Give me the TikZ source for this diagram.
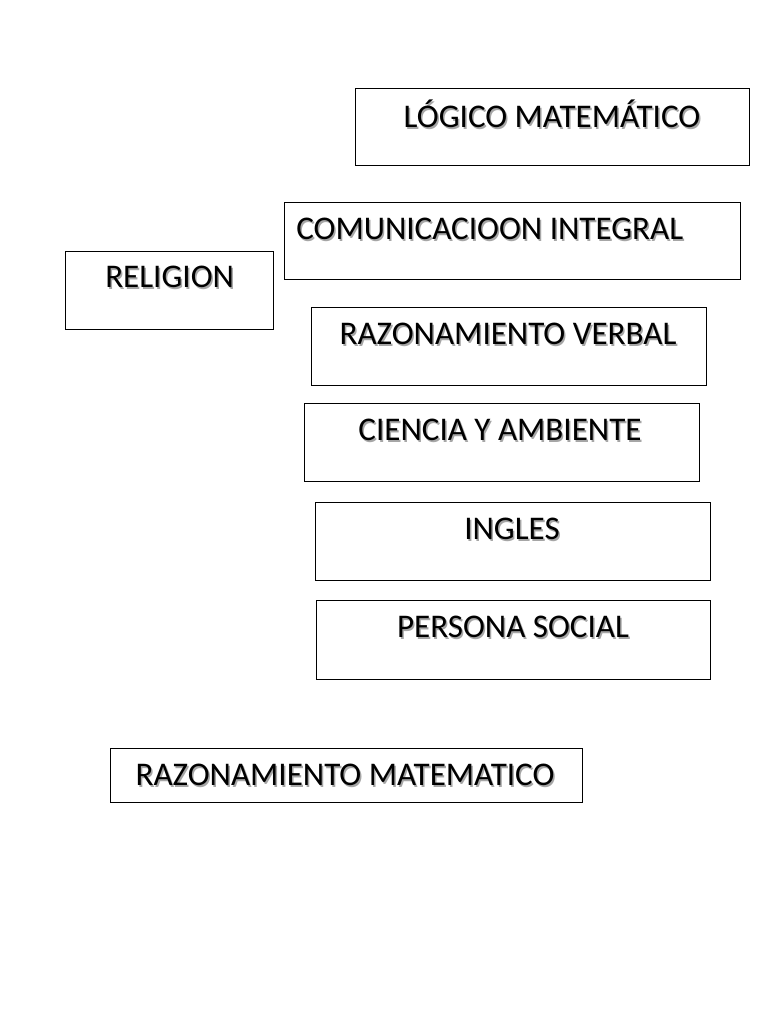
\documentclass[tikz,border=0pt]{standalone}
\usepackage{fontspec}
\setmainfont{Carlito}
\begin{document}
\begin{tikzpicture}[x=0.75pt,y=-0.75pt,
  boxstyle/.style={draw=black,line width=0.8pt,fill=white,inner sep=0pt,anchor=north west},
  txt/.style={font=\fontsize{24.8}{28}\selectfont,inner sep=0pt,text=black},
  shd/.style={txt,text=black!35}]
\useasboundingbox (0,0) rectangle (768,1024);
% boxes
\node[boxstyle,minimum width=295.5pt,minimum height=58pt] (b1) at (355,88) {};
\node[boxstyle,minimum width=342pt,minimum height=58pt] (b2) at (284,202) {};
\node[boxstyle,minimum width=156pt,minimum height=58.5pt] (b3) at (65,251) {};
\node[boxstyle,minimum width=296pt,minimum height=58.5pt] (b4) at (311,307) {};
\node[boxstyle,minimum width=296pt,minimum height=58.5pt] (b5) at (304,403) {};
\node[boxstyle,minimum width=296pt,minimum height=58.5pt] (b6) at (315,502) {};
\node[boxstyle,minimum width=295.5pt,minimum height=59pt] (b7) at (316,600) {};
\node[boxstyle,minimum width=354pt,minimum height=40.5pt] (b8) at (110,748) {};
% shadows
\node[shd] at (553.5,115.5) {LÓGICO MATEMÁTICO};
\node[shd,anchor=west] at (297.5,230.5) {COMUNICACIOON INTEGRAL};
\node[shd,anchor=west] at (106.5,278.5) {RELIGION};
\node[shd] at (509.5,335.5) {RAZONAMIENTO VERBAL};
\node[shd] at (501.5,431.5) {CIENCIA Y AMBIENTE};
\node[shd] at (513.5,530.5) {INGLES};
\node[shd] at (514.5,628.5) {PERSONA SOCIAL};
\node[shd] at (346.5,776.5) {RAZONAMIENTO MATEMATICO};
% texts
\node[txt] (t1) at (552,114) {LÓGICO MATEMÁTICO};
\node[txt,anchor=west] (t2) at (296,229) {COMUNICACIOON INTEGRAL};
\node[txt,anchor=west] (t3) at (105,277) {RELIGION};
\node[txt] (t4) at (508,334) {RAZONAMIENTO VERBAL};
\node[txt] (t5) at (500,430) {CIENCIA Y AMBIENTE};
\node[txt] (t6) at (512,529) {INGLES};
\node[txt] (t7) at (513,627) {PERSONA SOCIAL};
\node[txt] (t8) at (345,775) {RAZONAMIENTO MATEMATICO};
\end{tikzpicture}
\end{document}
